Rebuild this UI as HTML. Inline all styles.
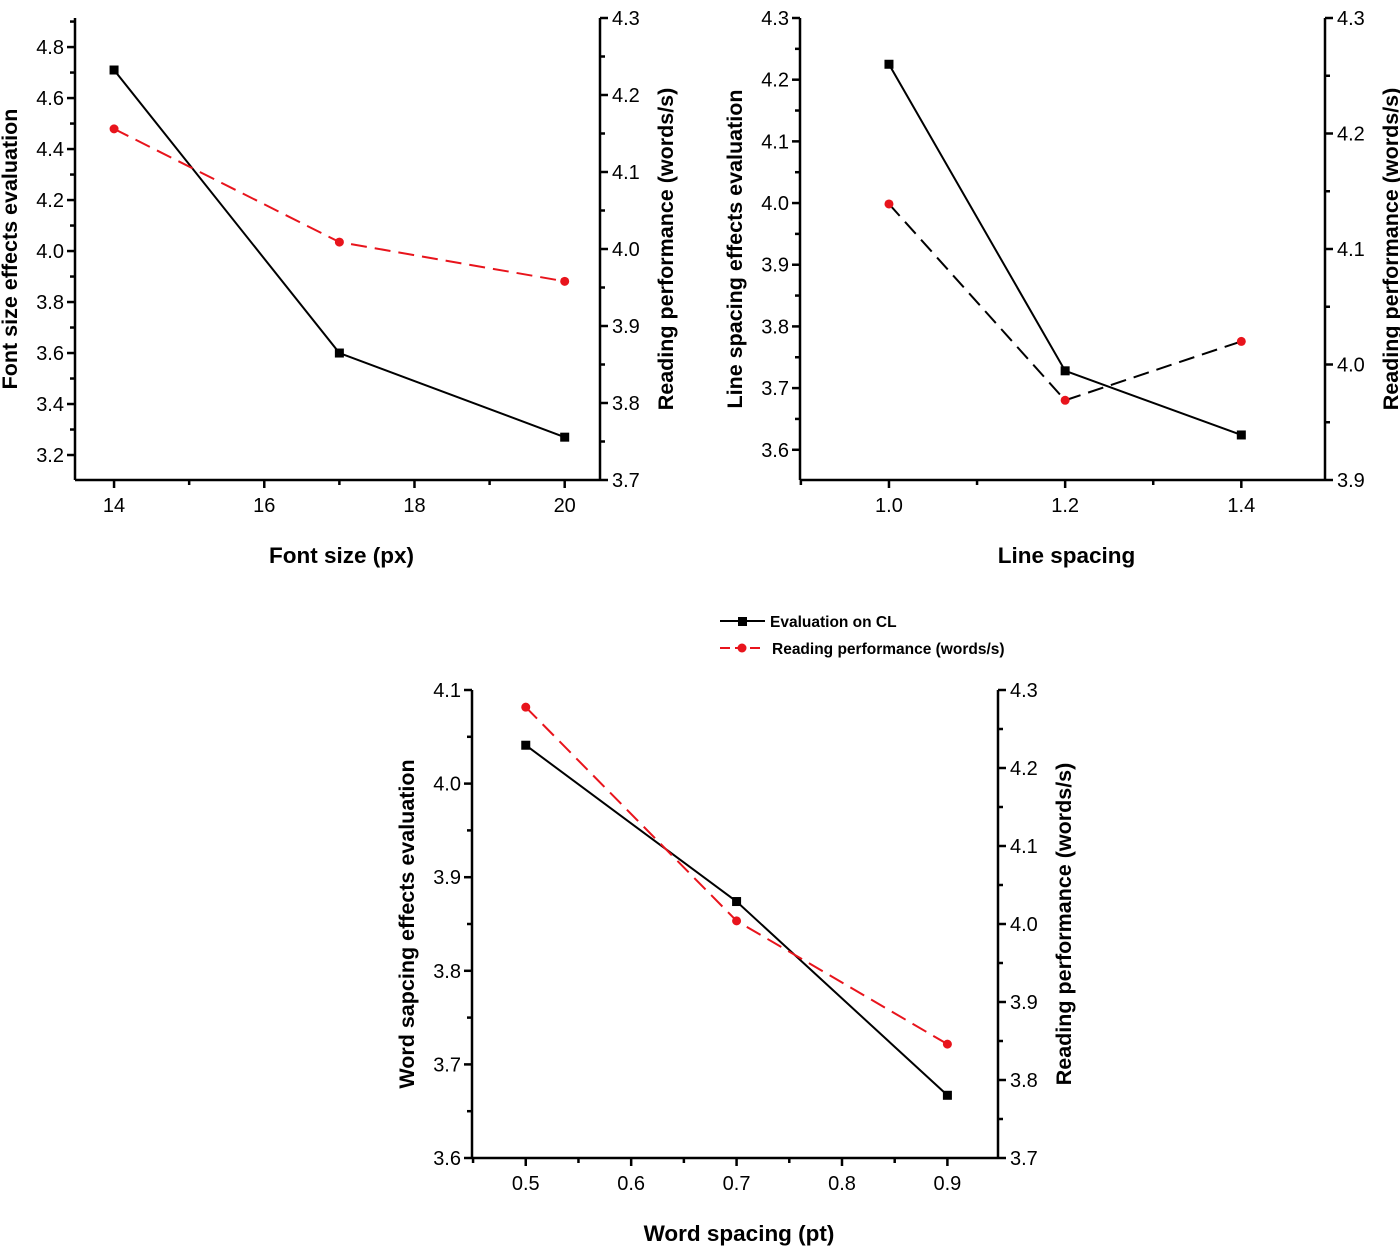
<!DOCTYPE html>
<html><head><meta charset="utf-8"><style>
body{margin:0;background:#fff;width:1400px;height:1249px;overflow:hidden}
svg text{font-family:"Liberation Sans",Arial,sans-serif}
</style></head><body>
<svg id="s" width="1400" height="1249"></svg>
<script>
// Chart 1 data
const fontX=[14,17,20];
const fontEval=[4.71,3.60,3.27];
const fontRead=[4.156,4.009,3.958];
const fontXTicks=[14,16,18,20];
const fontLTicks=[3.2,3.4,3.6,3.8,4.0,4.2,4.4,4.6,4.8];
const fontRTicks=[3.7,3.8,3.9,4.0,4.1,4.2,4.3];
// Chart 2 data
const lineX=[1.0,1.2,1.4];
const lineEval=[4.225,3.728,3.624];
const lineRead=[4.139,3.969,4.02];
const lineXTicks=[1.0,1.2,1.4];
const lineLTicks=[3.6,3.7,3.8,3.9,4.0,4.1,4.2,4.3];
const lineRTicks=[3.9,4.0,4.1,4.2,4.3];
// Chart 3 data
const wordX=[0.5,0.7,0.9];
const wordEval=[4.041,3.874,3.667];
const wordRead=[4.278,4.004,3.846];
const wordXTicks=[0.5,0.6,0.7,0.8,0.9];
const wordLTicks=[3.6,3.7,3.8,3.9,4.0,4.1];
const wordRTicks=[3.7,3.8,3.9,4.0,4.1,4.2,4.3];

const S=document.getElementById('s');
const NS='http://www.w3.org/2000/svg';
function mk(tag,at,parent){const e=document.createElementNS(NS,tag);for(const k in at)e.setAttribute(k,at[k]);(parent||S).appendChild(e);return e;}
function lin(d0,d1,r0,r1){return v=>r0+(v-d0)*(r1-r0)/(d1-d0);}
function minors(ticks,lo,hi){const st=ticks[1]-ticks[0];const out=[];for(let k=-3;k<ticks.length+3;k++){const v=ticks[0]+st*(k+0.5);if(v>=lo-1e-9&&v<=hi+1e-9)out.push(v);}return out;}

function chart(c){
  const g=mk('g',{});
  
  
  const X=lin(c.xd[0],c.xd[1],c.x0,c.x1);
  const YL=lin(c.ld[0],c.ld[1],c.y1,c.y0);
  const YR=lin(c.rd[0],c.rd[1],c.y1,c.y0);
  const sw=2.5;
  let a=mk('line',{x1:c.x0,x2:c.x1,y1:c.y1,y2:c.y1,stroke:'#000','stroke-width':sw},g);
  
  a=mk('line',{x1:c.x0,x2:c.x0,y1:c.y0,y2:c.y1,stroke:'#000','stroke-width':sw},g);
  
  a=mk('line',{x1:c.x1,x2:c.x1,y1:c.y0,y2:c.y1,stroke:'#000','stroke-width':sw},g);
  
  minors(c.xt,c.xd[0],c.xd[1]).forEach(v=>mk('line',{x1:X(v),x2:X(v),y1:c.y1,y2:c.y1+5,stroke:'#000','stroke-width':sw},g));
  minors(c.lt,c.ld[0],c.ld[1]).forEach(v=>mk('line',{x1:c.x0-5,x2:c.x0,y1:YL(v),y2:YL(v),stroke:'#000','stroke-width':sw},g));
  minors(c.rt,c.rd[0],c.rd[1]).forEach(v=>mk('line',{x1:c.x1,x2:c.x1+5,y1:YR(v),y2:YR(v),stroke:'#000','stroke-width':sw},g));
  c.xt.forEach(v=>{
    const x=X(v);
    mk('line',{x1:x,x2:x,y1:c.y1,y2:c.y1+8,stroke:'#000','stroke-width':sw},g);
    const t=mk('text',{x:x,y:c.y1+32,'font-size':20,'text-anchor':'middle'},g);
    t.textContent=c.fmtX(v);
    
  });
  c.lt.forEach(v=>{
    const y=YL(v);
    mk('line',{x1:c.x0-8,x2:c.x0,y1:y,y2:y,stroke:'#000','stroke-width':sw},g);
    const t=mk('text',{x:c.x0-11,y:y+7,'font-size':20,'text-anchor':'end'},g);
    t.textContent=v.toFixed(1);
    
  });
  c.rt.forEach(v=>{
    const y=YR(v);
    mk('line',{x1:c.x1,x2:c.x1+8,y1:y,y2:y,stroke:'#000','stroke-width':sw},g);
    const t=mk('text',{x:c.x1+12,y:y+7,'font-size':20,'text-anchor':'start'},g);
    t.textContent=v.toFixed(1);
    
  });
  let t=mk('text',{x:(c.x0+c.x1)/2+4,y:c.y1+83,'font-size':22.5,'font-weight':'bold','text-anchor':'middle'},g);
  t.textContent=c.xl;
  let cy=(c.y0+c.y1)/2;
  t=mk('text',{x:0,y:0,'font-size':21.5,'font-weight':'bold','text-anchor':'middle',transform:`translate(${c.x0-58},${cy}) rotate(-90)`},g);
  t.textContent=c.ll;
  t=mk('text',{x:0,y:0,'font-size':21.5,'font-weight':'bold','text-anchor':'middle',transform:`translate(${c.x1+73},${cy}) rotate(-90)`},g);
  t.textContent='Reading performance (words/s)';
  const pe=mk('polyline',{points:c.xs.map((v,i)=>X(v)+','+YL(c.ev[i])).join(' '),fill:'none',stroke:'#000','stroke-width':2},g);
  
  const pr=mk('polyline',{points:c.xs.map((v,i)=>X(v)+','+YR(c.rd2[i])).join(' '),fill:'none',stroke:c.rc,'stroke-width':2,'stroke-dasharray':'16,8'},g);
  
  c.xs.forEach((v,i)=>{
    const r=mk('rect',{x:X(v)-4.5,y:YL(c.ev[i])-4.5,width:9,height:9,fill:'#000'},g);
    
    const d=mk('circle',{cx:X(v),cy:YR(c.rd2[i]),r:4.5,fill:'#e8141c'},g);
    
  });
}
chart({name:'font-size-chart',x0:75,x1:600,y0:18,y1:480,xd:[13.48,20.47],ld:[3.102,4.914],rd:[3.7,4.3],
  xt:fontXTicks,lt:fontLTicks,rt:fontRTicks,fmtX:v=>String(v),xl:'Font size (px)',ll:'Font size effects evaluation',
  xs:fontX,ev:fontEval,rd2:fontRead,rc:'#e8141c'});
chart({name:'line-spacing-chart',x0:800,x1:1325,y0:18,y1:480,xd:[0.899,1.495],ld:[3.551,4.3],rd:[3.9,4.3],
  xt:lineXTicks,lt:lineLTicks,rt:lineRTicks,fmtX:v=>v.toFixed(1),xl:'Line spacing',ll:'Line spacing effects evaluation',
  xs:lineX,ev:lineEval,rd2:lineRead,rc:'#000'});
chart({name:'word-spacing-chart',x0:472,x1:998,y0:690,y1:1158,xd:[0.449,0.948],ld:[3.6,4.1],rd:[3.7,4.3],
  xt:wordXTicks,lt:wordLTicks,rt:wordRTicks,fmtX:v=>v.toFixed(1),xl:'Word spacing (pt)',ll:'Word sapcing effects evaluation',
  xs:wordX,ev:wordEval,rd2:wordRead,rc:'#e8141c'});
const lg=mk('g',{});

mk('line',{x1:720,x2:765,y1:621,y2:621,stroke:'#000','stroke-width':2},lg);
mk('rect',{x:738,y:617,width:9,height:9,fill:'#000'},lg);
let lt=mk('text',{x:770,y:627,'font-size':15.5,'font-weight':'bold'},lg);lt.textContent='Evaluation on CL';

mk('line',{x1:720,x2:765,y1:648,y2:648,stroke:'#e8141c','stroke-width':2,'stroke-dasharray':'10,5'},lg);
mk('circle',{cx:742,cy:648,r:4.5,fill:'#e8141c'},lg);
lt=mk('text',{x:772,y:654,'font-size':15.5,'font-weight':'bold'},lg);lt.textContent='Reading performance (words/s)';

</script>
</body></html>
